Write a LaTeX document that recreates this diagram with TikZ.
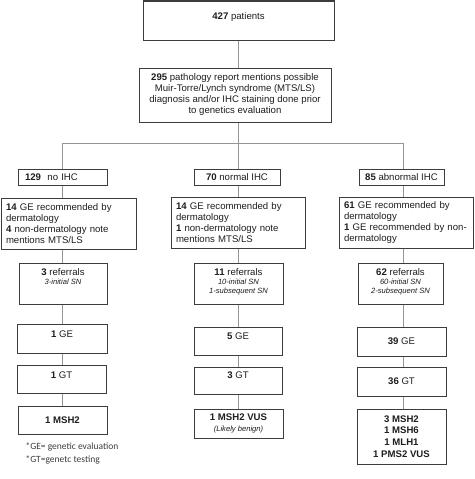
\documentclass[tikz,border=0pt]{standalone}
\usepackage{fontspec}
\setmainfont{Liberation Sans}
\newfontfamily\notefont{Carlito}

\definecolor{ink}{HTML}{1E1E1E}
\definecolor{boxgray}{HTML}{3C3C3C}
\definecolor{linegray}{HTML}{959595}

% text hung from the top edge of a fixed box
\newcommand{\topcell}[4][12.5pt]{\parbox[c][#3][t]{#2}{\centering\rule{0pt}{#1}#4}}
\newcommand{\sn}{\fontsize{7.6}{9}\selectfont\itshape}

\begin{document}
\begin{tikzpicture}[x=1pt, y=-1pt]
\tikzstyle{box}     = [rectangle, draw=boxgray, line width=1pt, fill=white, text=ink, font=\fontsize{9.6}{11}\selectfont]
\tikzstyle{box_top} = [box, inner sep=0pt]
\tikzstyle{box_dg}  = [box, minimum height=51pt, text width=124pt, align=left, inner xsep=5pt]
\tikzstyle{link}    = [draw=linegray, line width=0.9pt]

\useasboundingbox (0,0) rectangle (474,479);

\node (pat)  [box_top] at (238.5,20.5) {\topcell[18pt]{191pt}{39pt}{\textbf{427} patients}};
\node (path) [box, minimum width=192pt, minimum height=54pt, align=center] at (235,95)
  {\textbf{295} pathology report mentions possible\\Muir-Torre/Lynch syndrome (MTS/LS)\\diagnosis and/or IHC staining done prior\\to genetics evaluation};

\coordinate (c1)    at (62,143);
\coordinate (split) at (238,143);
\coordinate (c3)    at (403.5,143);

% no IHC
\node (ihc1) [box, minimum width=89pt, minimum height=16pt, text width=75pt, align=left] at (62.5,177) {\textbf{129}\ \ no IHC};
\node (dg1)  [box_dg, text width=125pt] at (68.5,223.5)
  {\textbf{14} GE recommended by\\dermatology\\\textbf{4} non-dermatology note\\mentions MTS/LS};
\node (ref1) [box_top] at (63,283.5) {\topcell{88pt}{41pt}{\textbf{3} referrals\par{\sn 3-initial SN\par}}};
\node (ge1)  [box_top] at (62,338.5) {\topcell[13.5pt]{90pt}{29pt}{\textbf{1} GE}};
\node (gt1)  [box_top] at (61.5,379) {\topcell[13.5pt]{89pt}{28pt}{\textbf{1} GT}};
\node (res1) [box, minimum width=89pt, minimum height=28pt] at (62.5,420) {\textbf{1 MSH2}};

% normal IHC
\node (ihc2) [box, minimum width=86pt, minimum height=16pt] at (237,177) {\textbf{70} normal IHC};
\node (dg2)  [box_dg] at (238,222.5)
  {\textbf{14} GE recommended by\\dermatology\\\textbf{1} non-dermatology note\\mentions MTS/LS};
\node (ref2) [box_top] at (238.5,283.5) {\topcell{89pt}{41pt}{\textbf{11} referrals\par{\sn 10-initial SN\\1-subsequent SN\par}}};
\node (ge2)  [box_top] at (238,341) {\topcell{88pt}{28pt}{\textbf{5} GE}};
\node (gt2)  [box_top] at (238,380.5) {\topcell[11.5pt]{88pt}{27pt}{\textbf{3} GT}};
\node (res2) [box, minimum width=89pt, minimum height=29pt, align=center] at (238.5,423.5)
  {\textbf{1 MSH2 VUS}\\{\sn (Likely benign)}};

% abnormal IHC
\node (ihc3) [box, minimum width=85pt, minimum height=16pt] at (401.5,177) {\textbf{85} abnormal IHC};
\node (dg3)  [box_dg] at (406,222.5)
  {\textbf{61} GE recommended by\\dermatology\\\textbf{1} GE recommended by non-\\dermatology};
\node (ref3) [box_top] at (400.5,283.5) {\topcell{85pt}{41pt}{\textbf{62} referrals\par{\sn 60-initial SN\\2-subsequent SN\par}}};
\node (ge3)  [box, minimum width=89pt, minimum height=29pt] at (401.5,341.5) {\textbf{39} GE};
\node (gt3)  [box, minimum width=89pt, minimum height=29pt] at (401.5,381.5) {\textbf{36} GT};
\node (res3) [box, minimum width=89pt, minimum height=55pt, align=center, font=\fontsize{9.6}{11.7}\selectfont\bfseries] at (401.5,436.5)
  {3 MSH2\\1 MSH6\\1 MLH1\\1 PMS2 VUS};

\node (note) [anchor=west, align=left, text=boxgray, font=\notefont\fontsize{9.5}{13}\selectfont] at (22,453.5)
  {*GE= genetic evaluation\\*GT=genetc testing};

\draw [link] (pat.south) -- (pat.south |- path.north);
\draw [link] (path.south -| split) -- (split);
\draw [link] (c1) -- (c3);

\draw [link] (c1) -- (ihc1.north -| c1);
\draw [link] (ihc1.south -| c1) -- (dg1.north -| c1);
\draw [link] (dg1.south -| c1)  -- (ref1.north -| c1);
\draw [link] (ref1.south -| c1) -- (ge1.north -| c1);
\draw [link] (ge1.south -| c1)  -- (gt1.north -| c1);
\draw [link] (gt1.south -| c1)  -- (res1.north -| c1);

\draw [link] (split) -- (ihc2.north -| split);
\draw [link] (ihc2.south -| split) -- (dg2.north -| split);
\draw [link] (dg2.south -| split)  -- (ref2.north -| split);
\draw [link] (ref2.south -| split) -- (ge2.north -| split);
\draw [link] (ge2.south -| split)  -- (gt2.north -| split);
\draw [link] (gt2.south -| split)  -- (res2.north -| split);

\draw [link] (c3) -- (ihc3.north -| c3);
\draw [link] (ihc3.south -| c3) -- (dg3.north -| c3);
\draw [link] (dg3.south -| c3)  -- (ref3.north -| c3);
\draw [link] (ref3.south -| c3) -- (ge3.north -| c3);
\draw [link] (ge3.south -| c3)  -- (gt3.north -| c3);
\draw [link] (gt3.south -| c3)  -- (res3.north -| c3);
\end{tikzpicture}
\end{document}
